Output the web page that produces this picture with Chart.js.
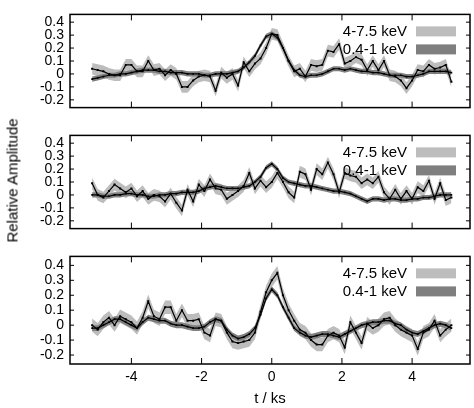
<!DOCTYPE html><html><head><meta charset="utf-8">
<script src="https://cdn.jsdelivr.net/npm/chart.js@4"></script>
<style>body{margin:0;background:#fff;width:474px;height:408px;position:relative;overflow:hidden;font-family:"Liberation Sans",Arial}
.p{position:absolute;left:0;width:474px}
#yl{position:absolute;left:-68px;top:172px;width:160px;text-align:center;transform:rotate(-90deg);font-size:15px;color:#000;font-weight:normal;font-family:"Liberation Sans"}
</style></head><body>
<div class="p" style="top:0;height:122px"><canvas id="c1"></canvas></div>
<div class="p" style="top:121px;height:122px"><canvas id="c2"></canvas></div>
<div class="p" style="top:242px;height:166px"><canvas id="c3"></canvas></div>
<div id="yl">Relative Amplitude</div>
<script>
const tStart=-5.12, tStep=0.16;
const yTicks=[-0.2,-0.1,0,0.1,0.2,0.3,0.4];
const xTicks=[-4,-2,0,2,4];
const legendLabels=["4-7.5 keV","0.4-1 keV"];
const hard1=[0.04,0.03,0.02,0,-0.01,-0.01,0.07,0.07,0.02,0.02,0.1,0.03,0.04,-0.01,0.03,0,-0.1,-0.1,-0.05,-0.02,-0.01,-0.02,-0.13,0.01,-0.03,0,-0.09,0.09,0.02,0.08,0.12,0.2,0.31,0.3,0.2,0.1,0.02,0.04,-0.02,0.07,0.06,0.07,0.18,0.17,0.23,0.08,0.1,0.13,0.11,0.03,0.1,0.03,0.1,-0.01,-0.02,-0.05,-0.11,-0.05,0.03,0.02,0.07,0.04,0.05,0.07,-0.06];
const soft1=[-0.04,-0.03,-0.02,-0.01,-0.01,0,0,0.01,0.02,0.03,0.03,0.03,0.02,0.02,0.01,0.01,0.01,0,0,0,-0.01,-0.01,0,0,0,0.01,0.02,0.05,0.09,0.14,0.22,0.29,0.31,0.28,0.2,0.1,0.03,-0.01,-0.02,-0.01,-0.01,0,0.02,0.04,0.04,0.03,0.04,0.03,0.02,0.02,0.01,0.01,0,-0.01,-0.01,-0.01,-0.02,-0.02,-0.01,0,0.02,0.02,0.02,0.02,0.01];
const hard2=[0.09,0,-0.02,0.03,0.08,0.05,0.02,0.05,-0.01,0.03,-0.03,0,-0.01,-0.05,0.01,-0.06,-0.12,0.04,-0.05,0.08,0.03,0.12,0.05,0.04,-0.03,0,0.03,0.07,0.17,0.05,0.11,0.06,0.1,0.17,0.1,0.02,-0.02,0.18,0.16,0.04,0.2,0.16,0.25,0.16,0.02,0.17,0.15,0.14,0.09,0.12,0.09,0.14,0.02,-0.03,0.04,-0.03,0.03,-0.03,0.06,0.03,0.11,-0.03,0.09,-0.04,-0.02];
const soft2=[0,0,-0.01,-0.01,0,0,0.01,0.01,0,0,-0.01,-0.01,0,0,0.01,0.01,0.02,0.02,0.02,0.03,0.05,0.06,0.07,0.06,0.05,0.05,0.05,0.06,0.07,0.1,0.14,0.21,0.24,0.2,0.13,0.1,0.09,0.08,0.07,0.07,0.06,0.05,0.04,0.03,0.03,0.02,0.01,-0.01,-0.03,-0.05,-0.03,-0.03,-0.04,-0.03,-0.03,-0.04,-0.04,-0.03,-0.03,-0.02,-0.02,-0.01,0,0,0];
const hard3=[0,-0.03,0.02,0.05,0,0.06,0.04,0.02,-0.02,0.05,0.16,0.06,0.04,0.12,0.12,0.03,0.1,0.03,0.03,0.04,-0.05,-0.07,0.04,0.03,-0.05,-0.11,-0.12,-0.11,-0.1,-0.05,0.09,0.22,0.3,0.35,0.2,0.1,0.03,-0.03,-0.05,-0.1,-0.13,-0.13,-0.07,-0.05,-0.07,-0.15,0.02,-0.05,-0.12,0.01,-0.02,0,0.04,0.05,0,-0.03,-0.05,-0.07,-0.16,-0.05,-0.03,0.03,-0.07,-0.03,0];
const soft3=[-0.02,-0.02,0,0.02,0.04,0.04,0.02,0,-0.02,0.02,0.05,0.04,0.03,0.03,0.01,0,0,-0.01,-0.02,-0.02,-0.01,0.02,0.04,0.03,-0.03,-0.07,-0.09,-0.08,-0.06,-0.02,0.07,0.18,0.24,0.2,0.12,0.05,-0.02,-0.05,-0.07,-0.08,-0.07,-0.06,-0.06,-0.07,-0.08,-0.06,-0.04,-0.02,0,0.01,0.02,0.02,0.03,0.03,0.01,0,-0.03,-0.05,-0.06,-0.04,-0.02,0,0.01,0,-0.02];
const hardErr=0.045, softErr=0.02;
const LIGHT='#bdbdbd', DARK='#7f7f7f';
const pts=(a,o)=>a.map((v,i)=>({x:+(tStart+tStep*i).toFixed(2),y:v+o}));
const deco={id:'deco',afterDraw(c){const x=c.ctx,a=c.chartArea,sx=c.scales.x,sy=c.scales.y;x.save();x.strokeStyle='#000';x.lineWidth=1;
 xTicks.forEach(t=>{const p=sx.getPixelForValue(t);x.beginPath();x.moveTo(p,a.bottom);x.lineTo(p,a.bottom-6);x.moveTo(p,a.top);x.lineTo(p,a.top+6);x.stroke();});
 yTicks.forEach(t=>{const p=sy.getPixelForValue(t);x.beginPath();x.moveTo(a.left,p);x.lineTo(a.left+4,p);x.moveTo(a.right,p);x.lineTo(a.right-4,p);x.stroke();});
 x.lineWidth=1.5;x.strokeRect(a.left,a.top,a.right-a.left,a.bottom-a.top);
 x.font='15px "Liberation Sans"';x.fillStyle='#000';x.textAlign='right';x.textBaseline='middle';
 [[LIGHT,0],[DARK,1]].forEach(([col,k])=>{const yy=a.top+17+k*18;x.fillText(legendLabels[k],a.left+337,yy);x.fillStyle=col;x.fillRect(a.left+346,yy-5,40,10);x.fillStyle='#000';});
 x.restore();}};
function mk(id,hard,soft,bottom){
 const ds=[
  {data:pts(hard,hardErr),borderWidth:0,pointRadius:0,fill:false,order:5},
  {data:pts(hard,-hardErr),borderWidth:0,pointRadius:0,fill:'-1',backgroundColor:LIGHT,order:5},
  {data:pts(soft,softErr),borderWidth:0,pointRadius:0,fill:false,order:4},
  {data:pts(soft,-softErr),borderWidth:0,pointRadius:0,fill:'-1',backgroundColor:DARK,order:4},
  {data:pts(hard,0),borderColor:'#000',borderWidth:1.2,pointStyle:'rect',pointRadius:1.4,pointBackgroundColor:'#000',pointBorderWidth:0,fill:false,order:1},
  {data:pts(soft,0),borderColor:'#000',borderWidth:1.2,pointStyle:'rect',pointRadius:1.2,pointBackgroundColor:'#000',pointBorderWidth:0,fill:false,order:2}];
 new Chart(document.getElementById(id),{type:'line',data:{datasets:ds},plugins:[deco],
  options:{responsive:true,maintainAspectRatio:false,animation:false,events:[],layout:{padding:{left:0,right:4,top:1,bottom:0}},
   plugins:{legend:{display:false},tooltip:{enabled:false}},
   scales:{x:{type:'linear',display:bottom,min:-5.75,max:5.65,grid:{display:false,tickLength:0},border:{display:false},
     afterBuildTicks:s=>{s.ticks=xTicks.map(v=>({value:v}));},
     ticks:{display:bottom,autoSkip:false,maxRotation:0,color:'#000',font:{size:14,family:'Liberation Sans'},padding:5},
     title:{display:bottom,text:'t / ks',color:'#000',font:{size:15,family:'Liberation Sans'},padding:{top:4,bottom:0}},
     afterFit:s=>{if(bottom)s.height=44;}},
    y:{min:-0.26,max:0.46,grid:{display:false,tickLength:0},border:{display:false},
     afterBuildTicks:s=>{s.ticks=yTicks.map(v=>({value:v}));},
     ticks:{autoSkip:false,color:'#000',font:{size:14,family:'Liberation Sans'},padding:6,callback:v=>String(Math.round(v*10)/10)},
     afterFit:s=>{s.width=70;}}}}});
}
mk('c1',hard1,soft1,false);mk('c2',hard2,soft2,false);mk('c3',hard3,soft3,true);
</script></body></html>
